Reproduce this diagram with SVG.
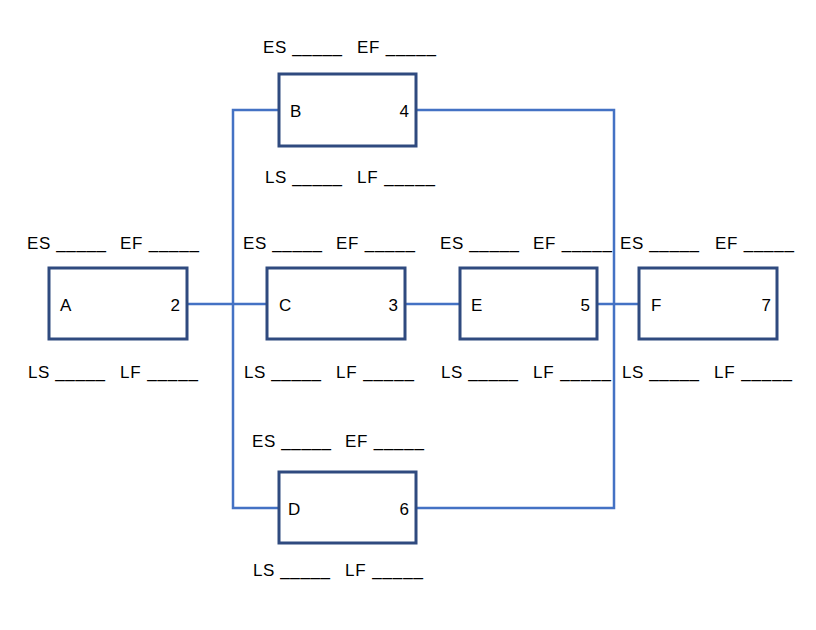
<svg xmlns="http://www.w3.org/2000/svg" width="816" height="630" viewBox="0 0 816 630">
<style>
.b{fill:#fff;stroke:#2F4A7F;stroke-width:3}
.c{fill:none;stroke:#4472C4;stroke-width:2.5}
text{font-family:"Liberation Sans",Arial,sans-serif;font-size:17px;fill:#000}
.r{text-anchor:end}
</style>
<rect width="816" height="630" fill="#fff"/>
<g id="connectors">
<polyline class="c" points="279,110 233,110 233,508 279,508"/>
<polyline class="c" points="416,110 614,110 614,508 416,508"/>
<line class="c" x1="187" y1="304" x2="267" y2="304"/>
<line class="c" x1="405" y1="304" x2="460" y2="304"/>
<line class="c" x1="597" y1="304" x2="639" y2="304"/>
</g>
<g id="B"><rect class="b" x="279" y="74" width="137" height="72"/><text x="290" y="117">B</text><text class="r" x="409" y="117">4</text>
<text x="263" y="53" textLength="79">ES _____</text><text x="357" y="53" textLength="79">EF _____</text>
<text x="265" y="183" textLength="77">LS _____</text><text x="357" y="183" textLength="78">LF _____</text></g>
<g id="A"><rect class="b" x="49" y="268" width="138" height="71"/><text x="60" y="311">A</text><text class="r" x="180" y="311">2</text>
<text x="27" y="249" textLength="79">ES _____</text><text x="120" y="249" textLength="79">EF _____</text>
<text x="28" y="378" textLength="77">LS _____</text><text x="120" y="378" textLength="78">LF _____</text></g>
<g id="C"><rect class="b" x="267" y="268" width="138" height="71"/><text x="279" y="311">C</text><text class="r" x="398" y="311">3</text>
<text x="243" y="249" textLength="79">ES _____</text><text x="336" y="249" textLength="79">EF _____</text>
<text x="244" y="378" textLength="77">LS _____</text><text x="336" y="378" textLength="78">LF _____</text></g>
<g id="E"><rect class="b" x="460" y="268" width="137" height="71"/><text x="471" y="311">E</text><text class="r" x="590" y="311">5</text>
<text x="440" y="249" textLength="79">ES _____</text><text x="533" y="249" textLength="79">EF _____</text>
<text x="441" y="378" textLength="77">LS _____</text><text x="533" y="378" textLength="78">LF _____</text></g>
<g id="F"><rect class="b" x="639" y="268" width="138" height="71"/><text x="651" y="311">F</text><text class="r" x="771" y="311">7</text>
<text x="620" y="249" textLength="79">ES _____</text><text x="715" y="249" textLength="79">EF _____</text>
<text x="622" y="378" textLength="77">LS _____</text><text x="714" y="378" textLength="78">LF _____</text></g>
<g id="D"><rect class="b" x="279" y="472" width="137" height="71"/><text x="288" y="515">D</text><text class="r" x="409" y="515">6</text>
<text x="252" y="447" textLength="79">ES _____</text><text x="345" y="447" textLength="79">EF _____</text>
<text x="253" y="576" textLength="77">LS _____</text><text x="345" y="576" textLength="78">LF _____</text></g>
</svg>
